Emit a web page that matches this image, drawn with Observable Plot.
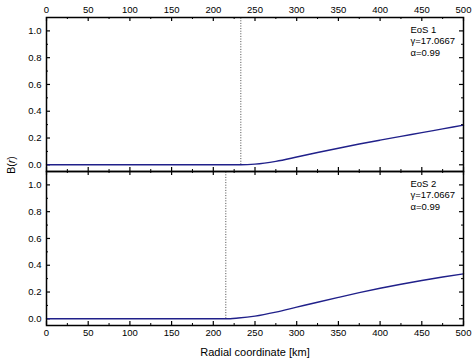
<!DOCTYPE html>
<html><head><meta charset="utf-8">
<script src="https://cdn.jsdelivr.net/npm/d3@7"></script>
<script src="https://cdn.jsdelivr.net/npm/@observablehq/plot@0.6"></script>
<style>
body{margin:0;background:#fff}
svg{font-family:"Liberation Sans",Arial,Helvetica,sans-serif}
</style>
</head><body><div id="chart"></div>
<script>
// ---- data ----
const panels = ["EoS 1", "EoS 2"];
const r1 = [0, 100, 200, 233, 250, 275, 300, 325, 350, 375, 400, 425, 450, 475, 500];
const b1 = [0, 0, 0, 0, 0.005, 0.026, 0.058, 0.092, 0.124, 0.155, 0.184, 0.212, 0.240, 0.268, 0.296];
const r2 = [0, 100, 200, 215, 230, 250, 275, 300, 325, 350, 375, 400, 425, 450, 475, 500];
const b2 = [0, 0, 0, 0, 0.006, 0.020, 0.050, 0.087, 0.124, 0.160, 0.195, 0.228, 0.258, 0.286, 0.312, 0.336];
const surfaceR = [233, 215];
const gammaText = ["γ=17.0667", "γ=17.0667"];
const alphaText = ["α=0.99", "α=0.99"];
const xMajor = [0, 50, 100, 150, 200, 250, 300, 350, 400, 450, 500];
const xMinor = [25, 75, 125, 175, 225, 275, 325, 375, 425, 475];
const yMajor = [0, 0.2, 0.4, 0.6, 0.8, 1.0];
const yMinor = [0.1, 0.3, 0.5, 0.7, 0.9];
const xTitle = "Radial coordinate [km]";

// ---- tables ----
const curve = [
  ...r1.map((r, i) => ({panel: panels[0], r, b: b1[i]})),
  ...r2.map((r, i) => ({panel: panels[1], r, b: b2[i]}))
];
const info = panels.map((p, i) => ({panel: p, r: surfaceR[i], text: `${p}\n${gammaText[i]}\n${alphaText[i]}`}));

const W = 474, H = 364, mT = 17, mB = 39, mL = 46, mR = 11;
const fh = (H - mT - mB) / 2, fw = W - mL - mR;
const major = 4, minor = 2;
const lineColor = "#20208a";

const chart = Plot.plot({
  width: W, height: H,
  marginTop: mT, marginBottom: mB, marginLeft: mL, marginRight: mR,
  style: {fontSize: "9.5px", fontFamily: "Liberation Sans, Arial, sans-serif", color: "black"},
  x: {domain: [0, 500]},
  y: {domain: [-0.05, 1.1]},
  fy: {domain: panels, padding: 0, axis: null, label: null},
  marks: [
    Plot.axisX({anchor: "top", ticks: xMajor, tickSize: 0, tickPadding: 5, tickFormat: d3.format("d"), label: null}),
    Plot.axisX({anchor: "bottom", ticks: xMajor, tickSize: 0, tickPadding: 4, tickFormat: d3.format("d"), label: null}),
    Plot.axisY({anchor: "left", ticks: yMajor, tickSize: 0, tickPadding: 5, tickFormat: d3.format(".1f"), label: null}),
    // inward ticks
    Plot.tickX(xMajor, {x: d => d, insetBottom: fh - major, stroke: "black", strokeWidth: 1.2}),
    Plot.tickX(xMajor, {x: d => d, insetTop: fh - major, stroke: "black", strokeWidth: 1.2}),
    Plot.tickX(xMinor, {x: d => d, insetBottom: fh - minor, stroke: "black", strokeWidth: 1}),
    Plot.tickX(xMinor, {x: d => d, insetTop: fh - minor, stroke: "black", strokeWidth: 1}),
    Plot.tickY(yMajor, {y: d => d, insetRight: fw - major, stroke: "black", strokeWidth: 1.2}),
    Plot.tickY(yMajor, {y: d => d, insetLeft: fw - major, stroke: "black", strokeWidth: 1.2}),
    Plot.tickY(yMinor, {y: d => d, insetRight: fw - minor, stroke: "black", strokeWidth: 1}),
    Plot.tickY(yMinor, {y: d => d, insetLeft: fw - minor, stroke: "black", strokeWidth: 1}),
    // surface markers
    Plot.ruleX(info, {fy: "panel", x: "r", y1: 0, y2: 1.1, stroke: "#333", strokeWidth: 0.9, strokeDasharray: "1,1.6"}),
    // curves
    Plot.line(curve, {fy: "panel", x: "r", y: "b", stroke: lineColor, strokeWidth: 1.4, curve: "monotone-x"}),
    // annotations
    Plot.text(info, {fy: "panel", text: "text", frameAnchor: "top-right", textAnchor: "start", lineAnchor: "top", dx: -53, dy: 7, lineHeight: 1.22, fontSize: 9.5}),
    Plot.text([{panel: panels[1]}], {fy: "panel", text: () => xTitle, frameAnchor: "bottom", lineAnchor: "middle", dy: 26.5, fontSize: 11}),
    Plot.frame({stroke: "black", strokeWidth: 1.5})
  ]
});
document.getElementById("chart").appendChild(chart);

// y-axis title with italic r
const svg = d3.select(chart);
const t = svg.append("text")
  .attr("transform", `translate(11,${mT + fh - 6}) rotate(-90)`)
  .attr("text-anchor", "middle")
  .attr("dominant-baseline", "central")
  .attr("font-size", 10.5)
  .attr("fill", "black");
t.append("tspan").text("B(");
t.append("tspan").attr("font-style", "italic").text("r");
t.append("tspan").text(")");
</script>
</body></html>
